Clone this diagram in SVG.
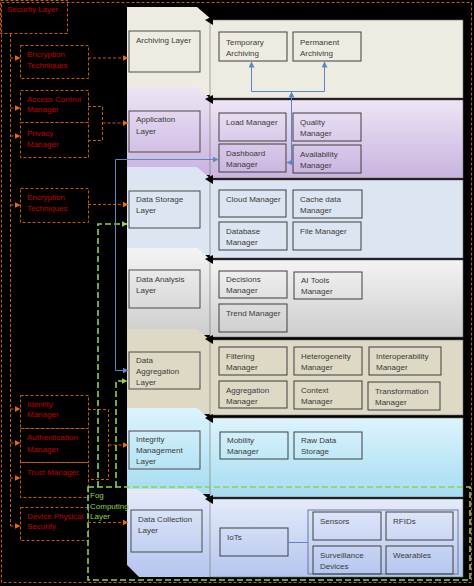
<svg xmlns="http://www.w3.org/2000/svg" width="474" height="586" viewBox="0 0 474 586">
<defs>
<style>
text{font-family:"Liberation Sans",Arial,sans-serif;font-size:8px;fill:#3a3a3a}
.rt{fill:#c00000}
.gt{fill:#92d050}
.sec{fill:none;stroke:#c55a11;stroke-width:1;stroke-dasharray:3 2}
.ib{fill:none;stroke:#3f3f3f;stroke-width:1}
.lb{fill:none;stroke:#4a4a4a;stroke-width:1}
.rp{stroke:#6e6e6e;stroke-width:0.6}
.oc{fill:none;stroke:#c55a11;stroke-width:1;stroke-dasharray:3 2}
.bc{fill:none;stroke:#5b87c5;stroke-width:1}
.gc{fill:none;stroke:#92d050;stroke-width:1.6;stroke-dasharray:6 3}
.notch{fill:#000}
</style>
<linearGradient id="g2" x1="0" y1="0" x2="0" y2="1"><stop offset="0" stop-color="#ede5f5"/><stop offset="1" stop-color="#c8b3df"/></linearGradient>
<linearGradient id="g4" x1="0" y1="0" x2="0" y2="1"><stop offset="0" stop-color="#f4f4f4"/><stop offset="1" stop-color="#cdcdcd"/></linearGradient>
<linearGradient id="g6" x1="0" y1="0" x2="0" y2="1"><stop offset="0" stop-color="#dcf4fc"/><stop offset="1" stop-color="#a6dcf2"/></linearGradient>
<linearGradient id="g7" x1="0" y1="0" x2="0" y2="1"><stop offset="0" stop-color="#e4ebfa"/><stop offset="1" stop-color="#b4c5ee"/></linearGradient>
<marker id="ao" viewBox="0 0 6 6" refX="5.5" refY="3" markerWidth="6" markerHeight="6" markerUnits="userSpaceOnUse" orient="auto"><path d="M0,0 L6,3 L0,6 z" fill="#e46c0a"/></marker>
<marker id="ab" viewBox="0 0 6 6" refX="5.5" refY="3" markerWidth="6" markerHeight="6" markerUnits="userSpaceOnUse" orient="auto-start-reverse"><path d="M0,0 L6,3 L0,6 z" fill="#5b87c5"/></marker>
<marker id="ag" viewBox="0 0 6 6" refX="5.5" refY="3" markerWidth="6" markerHeight="6" markerUnits="userSpaceOnUse" orient="auto"><path d="M0,0 L6,3 L0,6 z" fill="#92d050"/></marker>
</defs>
<rect x="0" y="0" width="474" height="586" fill="#000"/>

<g id="layers">
<g id="layer-archiving">
<polygon points="127,7 197,7 211,19 211,95 127,95" fill="#eeece1"/>
<rect class="rp" x="210" y="20" width="253" height="78" fill="#eeece1"/>
<polygon class="notch" points="205,20 213,16 213,25"/>
<g id="archiving-label"><rect class="lb" x="129" y="31" width="71" height="41"/><text x="136" y="43">Archiving Layer</text></g>
<g id="temporary-archiving"><rect class="ib" x="219" y="32" width="68" height="29"/><text x="226" y="45">Temporary</text><text x="226" y="56">Archiving</text></g>
<g id="permanent-archiving"><rect class="ib" x="293" y="32" width="68" height="29"/><text x="300" y="45">Permanent</text><text x="300" y="56">Archiving</text></g>
</g>

<g id="layer-application">
<polygon points="127,87 197,87 211,99 211,175 127,175" fill="url(#g2)"/>
<rect class="rp" x="210" y="100" width="253" height="78" fill="url(#g2)"/>
<polygon class="notch" points="205,99 213,95 213,104"/>
<g id="application-label"><rect class="lb" x="129" y="111" width="71" height="41"/><text x="136" y="122">Application</text><text x="136" y="134">Layer</text></g>
<g id="load-manager"><rect class="ib" x="219" y="113" width="67" height="28"/><text x="226" y="125">Load Manager</text></g>
<g id="quality-manager"><rect class="ib" x="293" y="113" width="68" height="28"/><text x="300" y="125">Quality</text><text x="300" y="136">Manager</text></g>
<g id="dashboard-manager"><rect class="ib" x="219" y="144" width="67" height="28"/><text x="226" y="156">Dashboard</text><text x="226" y="167">Manager</text></g>
<g id="availability-manager"><rect class="ib" x="293" y="145" width="68" height="28"/><text x="300" y="157">Availability</text><text x="300" y="168">Manager</text></g>
</g>

<g id="layer-storage">
<polygon points="127,167 197,167 211,179 211,255 127,255" fill="#dce6f2"/>
<rect class="rp" x="210" y="180" width="253" height="78" fill="#dce6f2"/>
<polygon class="notch" points="205,179 213,175 213,184"/>
<g id="storage-label"><rect class="lb" x="129" y="191" width="71" height="37"/><text x="136" y="202">Data Storage</text><text x="136" y="213">Layer</text></g>
<g id="cloud-manager"><rect class="ib" x="219" y="190" width="67" height="27"/><text x="226" y="202">Cloud Manager</text></g>
<g id="cache-manager"><rect class="ib" x="293" y="190" width="69" height="28"/><text x="300" y="202">Cache data</text><text x="300" y="213">Manager</text></g>
<g id="database-manager"><rect class="ib" x="219" y="222" width="68" height="28"/><text x="226" y="234">Database</text><text x="226" y="245">Manager</text></g>
<g id="file-manager"><rect class="ib" x="293" y="222" width="68" height="28"/><text x="300" y="234">File Manager</text></g>
</g>

<g id="layer-analysis">
<polygon points="127,248 197,248 211,260 211,335 127,335" fill="url(#g4)"/>
<rect class="rp" x="210" y="260" width="253" height="77" fill="url(#g4)"/>
<polygon class="notch" points="205,259 213,255 213,264"/>
<g id="analysis-label"><rect class="lb" x="129" y="270" width="71" height="38"/><text x="136" y="282">Data Analysis</text><text x="136" y="293">Layer</text></g>
<g id="decisions-manager"><rect class="ib" x="219" y="271" width="68" height="27"/><text x="226" y="282">Decisions</text><text x="226" y="293">Manager</text></g>
<g id="aitools-manager"><rect class="ib" x="294" y="272" width="68" height="27"/><text x="301" y="283">AI Tools</text><text x="301" y="294">Manager</text></g>
<g id="trend-manager"><rect class="ib" x="219" y="304" width="68" height="28"/><text x="226" y="316">Trend Manager</text></g>
</g>

<g id="layer-aggregation">
<polygon points="127,329 197,329 211,341 211,414 127,414" fill="#ddd9c4"/>
<rect class="rp" x="210" y="340" width="253" height="75" fill="#ddd9c4"/>
<polygon class="notch" points="205,339 213,335 213,344"/>
<g id="aggregation-label"><rect class="lb" x="129" y="352" width="71" height="37"/><text x="136" y="363">Data</text><text x="136" y="374">Aggregation</text><text x="136" y="385">Layer</text></g>
<g id="filtering-manager"><rect class="ib" x="219" y="347" width="68" height="28"/><text x="226" y="359">Filtering</text><text x="226" y="370">Manager</text></g>
<g id="heterogeneity-manager"><rect class="ib" x="294" y="347" width="68" height="28"/><text x="301" y="359">Heterogeneity</text><text x="301" y="370">Manager</text></g>
<g id="interoperability-manager"><rect class="ib" x="369" y="347" width="72" height="28"/><text x="376" y="359">Interoperability</text><text x="376" y="370">Manager</text></g>
<g id="aggregation-manager"><rect class="ib" x="219" y="381" width="68" height="27"/><text x="226" y="393">Aggregation</text><text x="226" y="404">Manager</text></g>
<g id="context-manager"><rect class="ib" x="294" y="381" width="68" height="28"/><text x="301" y="393">Context</text><text x="301" y="404">Manager</text></g>
<g id="transformation-manager"><rect class="ib" x="368" y="382" width="72" height="28"/><text x="375" y="394">Transformation</text><text x="375" y="405">Manager</text></g>
</g>

<g id="layer-integrity">
<polygon points="127,408 197,408 211,420 211,494 127,494" fill="url(#g6)"/>
<rect class="rp" x="210" y="418" width="253" height="79" fill="url(#g6)"/>
<polygon class="notch" points="205,418 213,414 213,423"/>
<g id="integrity-label"><rect class="lb" x="129" y="431" width="71" height="38"/><text x="136" y="442">Integrity</text><text x="136" y="453">Management</text><text x="136" y="464">Layer</text></g>
<g id="mobility-manager"><rect class="ib" x="220" y="432" width="68" height="27"/><text x="227" y="443">Mobility</text><text x="227" y="454">Manager</text></g>
<g id="rawdata-storage"><rect class="ib" x="294" y="432" width="68" height="27"/><text x="301" y="443">Raw Data</text><text x="301" y="454">Storage</text></g>
</g>

<g id="layer-collection">
<polygon points="127,489 197,489 211,501 211,577 139,577 127,565" fill="url(#g7)"/>
<rect class="rp" x="210" y="499" width="253" height="78" fill="url(#g7)"/>
<polygon class="notch" points="205,499 213,495 213,504"/>
<g id="collection-label"><rect class="lb" x="131" y="510" width="71" height="42"/><text x="138" y="522">Data Collection</text><text x="138" y="533">Layer</text></g>
<g id="iots"><rect class="ib" x="220" y="528" width="68" height="28"/><text x="227" y="540">IoTs</text></g>
<g id="devices-group"><rect x="308" y="510" width="150" height="64" fill="none" stroke="#6a7a9a" stroke-width="1"/></g>
<g id="sensors"><rect class="ib" x="313" y="512" width="68" height="28"/><text x="320" y="524">Sensors</text></g>
<g id="rfids"><rect class="ib" x="386" y="512" width="67" height="28"/><text x="393" y="524">RFIDs</text></g>
<g id="surveillance-devices"><rect class="ib" x="313" y="546" width="68" height="28"/><text x="320" y="558">Surveillance</text><text x="320" y="569">Devices</text></g>
<g id="wearables"><rect class="ib" x="386" y="546" width="67" height="28"/><text x="393" y="558">Wearables</text></g>
</g>
</g>

<g id="security">
<rect class="sec" x="1.5" y="2.5" width="470" height="580"/>
<g id="security-layer"><rect class="sec" x="0.5" y="0.5" width="67" height="33"/><text class="rt" x="7" y="12">Security Layer</text></g>
<g id="encryption-1"><rect class="sec" x="20.5" y="45.5" width="68" height="33"/><text class="rt" x="27" y="57">Encryption</text><text class="rt" x="27" y="68">Techniques</text></g>
<g id="access-control"><rect class="sec" x="20.5" y="90.5" width="68" height="32"/><text class="rt" x="27" y="102">Access Control</text><text class="rt" x="27" y="112">Manager</text></g>
<g id="privacy-manager"><rect class="sec" x="20.5" y="122.5" width="68" height="35"/><text class="rt" x="27" y="136">Privacy</text><text class="rt" x="27" y="147">Manager</text></g>
<g id="encryption-2"><rect class="sec" x="20.5" y="188.5" width="68" height="34"/><text class="rt" x="27" y="200">Encryption</text><text class="rt" x="27" y="211">Techniques</text></g>
<g id="identity-manager"><rect class="sec" x="20.5" y="395.5" width="68" height="33"/><text class="rt" x="27" y="407">Identity</text><text class="rt" x="27" y="417">Manager</text></g>
<g id="authentication-manager"><rect class="sec" x="20.5" y="428.5" width="68" height="34"/><text class="rt" x="27" y="440">Authentication</text><text class="rt" x="27" y="452">Manager</text></g>
<g id="trust-manager"><rect class="sec" x="20.5" y="462.5" width="68" height="35"/><text class="rt" x="27" y="475">Trust Manager</text></g>
<g id="device-physical-security"><rect class="sec" x="20.5" y="507.5" width="68" height="33"/><text class="rt" x="27" y="519">Device Physical</text><text class="rt" x="27" y="529">Security</text></g>
</g>

<g id="fog-layer">
<rect class="gc" x="88" y="487" width="382" height="93"/>
<text class="gt" x="90" y="498">Fog</text><text class="gt" x="90" y="509">Computing</text><text class="gt" x="90" y="519">Layer</text>
</g>

<g id="connectors">
<path class="oc" d="M10.5,34 V526"/>
<path class="oc" d="M10.5,58 H20" marker-end="url(#ao)"/>
<path class="oc" d="M88,58 H128" marker-end="url(#ao)"/>
<path class="oc" d="M10.5,108 H20" marker-end="url(#ao)"/>
<path class="oc" d="M10.5,136 H20" marker-end="url(#ao)"/>
<path class="oc" d="M88,106.5 H102.5 V140.5 H88"/>
<path class="oc" d="M102.5,123 H128" marker-end="url(#ao)"/>
<path class="oc" d="M10.5,205 H20" marker-end="url(#ao)"/>
<path class="oc" d="M88,204.5 H128" marker-end="url(#ao)"/>
<path class="oc" d="M10.5,409 H20" marker-end="url(#ao)"/>
<path class="oc" d="M10.5,443 H20" marker-end="url(#ao)"/>
<path class="oc" d="M10.5,478 H20" marker-end="url(#ao)"/>
<path class="oc" d="M88,409.5 H108.5 V479.5 H88"/>
<path class="oc" d="M108.5,445 H128" marker-end="url(#ao)"/>
<path class="oc" d="M10.5,526 H20" marker-end="url(#ao)"/>
<path class="oc" d="M88,522.5 H128" marker-end="url(#ao)"/>

<path class="gc" d="M98,487 V224 H127" marker-end="url(#ag)"/>
<path class="gc" d="M116,487 V381 H127" marker-end="url(#ag)"/>

<path class="bc" d="M251.5,91.5 V62" marker-end="url(#ab)"/>
<path class="bc" d="M324.5,91.5 V62" marker-end="url(#ab)"/>
<path class="bc" d="M251.5,91.5 H324.5"/>
<path class="bc" d="M291.5,162.5 V92" marker-end="url(#ab)"/>
<path class="bc" d="M291.5,162.5 H287" marker-end="url(#ab)"/>
<path class="bc" d="M128,370.5 H115.5 V159.5 H218" marker-start="url(#ab)" marker-end="url(#ab)"/>
<path class="bc" d="M288,542.5 H308" stroke="#6a7a9a"/>
</g>
</svg>
